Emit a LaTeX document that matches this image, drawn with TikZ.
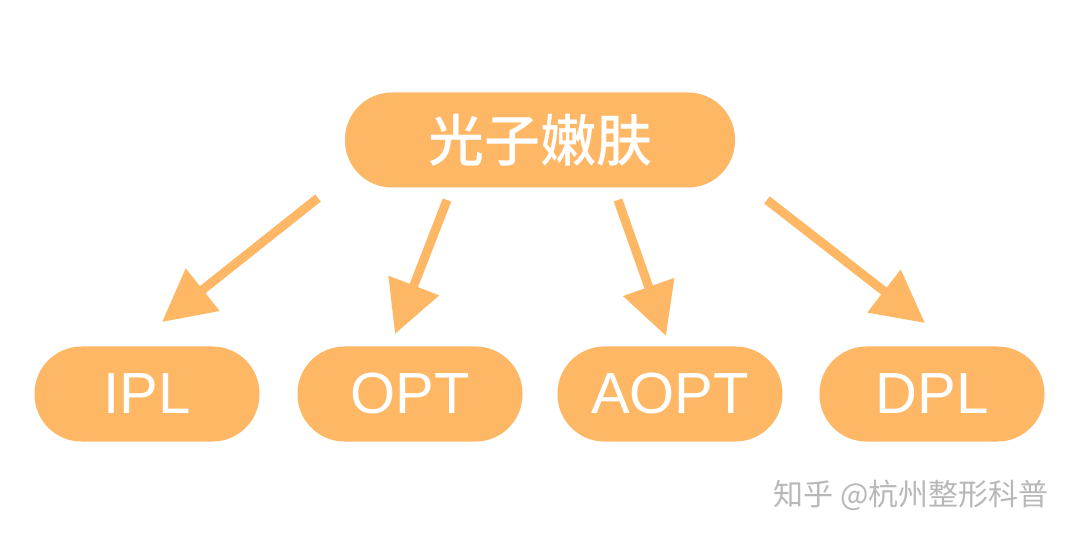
\documentclass[tikz,border=0pt]{standalone}
\usepackage{fontspec}
\setmainfont{Liberation Sans}
\newfontfamily\cjk{Noto Sans CJK SC Medium}
\newfontfamily\cjkl{Noto Sans CJK SC}
\usetikzlibrary{arrows.meta}
\definecolor{org}{HTML}{FDB765}
\definecolor{wm}{HTML}{B8B8B8}
\tikzset{
 pill/.style={fill=org,rounded corners=47pt,minimum height=95pt,text=white,inner sep=0pt},
 conn/.style={org,line width=9pt,-{Triangle[length=52pt,width=52pt]}}
}
\begin{document}
\begin{tikzpicture}[x=1pt,y=-1pt]
\useasboundingbox (0,0) rectangle (1080,540);
\fill[white] (0,0) rectangle (1080,540);
\node[pill,minimum width=390pt,font=\cjk\fontsize{56}{60}\selectfont] (top) at (540,140) {光子嫩肤};
\foreach \n/\x/\t in {ipl/147/IPL,opt/410/OPT,aopt/670/AOPT,dpl/932/DPL}
  \node[pill,minimum width=225pt,font=\fontsize{58}{62}\selectfont] (\n) at (\x,394) {\t};
\coordinate (s1) at (318,198); \coordinate (e1) at (162,322);
\coordinate (s2) at (447,200); \coordinate (e2) at (395,334);
\coordinate (s3) at (618,200); \coordinate (e3) at (666,336);
\coordinate (s4) at (767,200); \coordinate (e4) at (925,323);
\foreach \i in {1,2,3,4} \draw[conn] (s\i) -- (e\i);
\node[font=\cjkl\fontsize{30}{32}\selectfont,text=wm,anchor=east] (wmk) at (1052,495) {知乎 @杭州整形科普};
\end{tikzpicture}
\end{document}
